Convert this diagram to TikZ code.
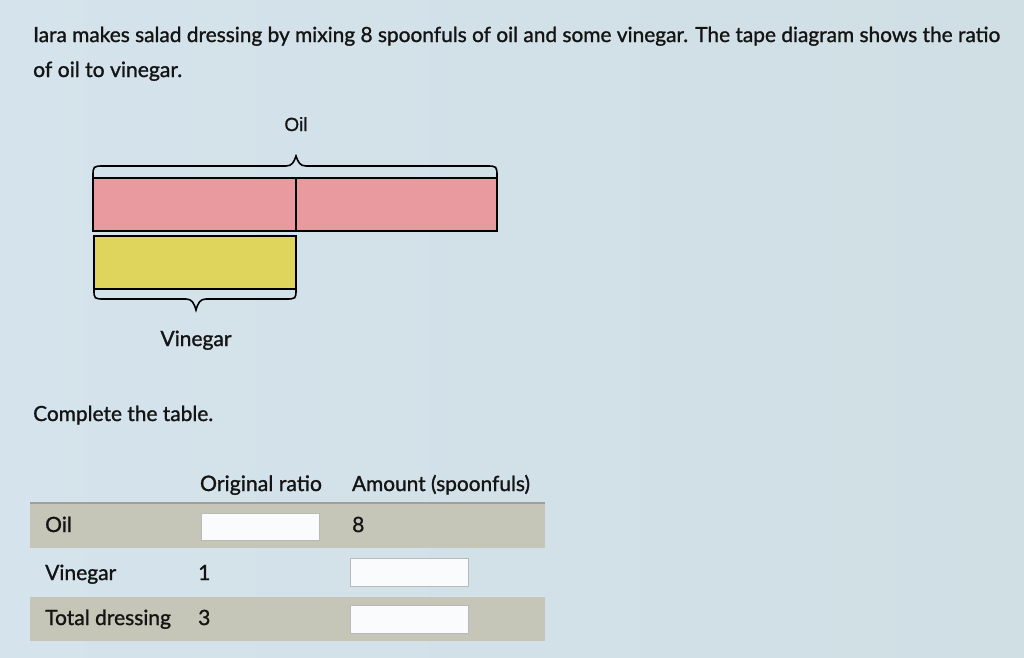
\documentclass[tikz,border=0pt]{standalone}
\usepackage{fontspec}
\setmainfont{Lato}[FakeBold=1.2]
\newfontfamily\helv{Liberation Sans}[FakeBold=0.8]
\definecolor{bgl}{HTML}{D5E3EC}
\definecolor{bgr}{HTML}{CFDFE4}
\definecolor{pinkfill}{HTML}{E99A9F}
\definecolor{yelfill}{HTML}{DFD45C}
\definecolor{band}{HTML}{C6C6B8}
\definecolor{txt}{HTML}{141414}
\tikzset{
  tape/.style={draw=black, line width=2pt},
  bracepath/.style={draw=black, line width=1.6pt},
  body/.style={font=\fontsize{21}{24}\selectfont, text=txt, inner sep=0pt},
  cell/.style={body, anchor=base west},
  inbox/.style={draw=gray!55, fill=white!85!bgl, line width=0.8pt}
}
\begin{document}
\begin{tikzpicture}[x=1pt,y=-1pt]
\useasboundingbox (0,0) rectangle (1024,657);
\shade[left color=bgl, right color=bgr] (0,0) rectangle (1024,657);
% question text
\node[cell] (q1) at (33,42) {\resizebox{967pt}{!}{\fontsize{22}{24}\selectfont Iara makes salad dressing by mixing 8 spoonfuls of oil and some vinegar. The tape diagram shows the ratio}};
\node[cell] (q2) at (33,77) {\resizebox{149pt}{!}{\fontsize{22}{24}\selectfont of oil to vinegar.}};
% tape diagram
\node[body, anchor=base, font=\helv\fontsize{19}{22}\selectfont] (oil) at (296,131) {Oil};
\draw[tape, fill=pinkfill] (93,178) rectangle (296,231);
\draw[tape, fill=pinkfill] (296,178) rectangle (497,231);
\draw[tape, fill=yelfill] (94,236) rectangle (296,289);
% top brace
\coordinate (tl) at (93,177);
\coordinate (tr) at (497,177);
\coordinate (ttip) at (296,156);
\draw[bracepath] (tl) .. controls (93,166) .. (104,166) -- (286,166)
  .. controls (292,166) and (294,162) .. (ttip)
  .. controls (298,162) and (300,166) .. (306,166) -- (486,166)
  .. controls (497,166) .. (tr);
% bottom brace
\coordinate (bl) at (94,289);
\coordinate (br) at (296,289);
\coordinate (btip) at (196,310);
\draw[bracepath] (bl) .. controls (94,299) .. (105,299) -- (186,299)
  .. controls (192,299) and (194,303) .. (btip)
  .. controls (198,303) and (200,299) .. (206,299) -- (285,299)
  .. controls (296,299) .. (br);
\node[body, anchor=base] (vin) at (196,346) {Vinegar};
% table
\node[cell] (complete) at (33,421) {\resizebox{180pt}{!}{Complete the table.}};
\node[body, anchor=base] (h1) at (261,491) {\resizebox{122pt}{!}{Original ratio}};
\node[body, anchor=base] (h2) at (441,491) {\resizebox{178pt}{!}{Amount (spoonfuls)}};
\fill[band] (30,503) rectangle (545,548);
\draw[gray!75, line width=1.5pt] (30,503) -- (545,503);
\fill[band] (30,597) rectangle (545,641);
\node[cell] (r1) at (45,532) {Oil};
\draw[inbox] (201,513) rectangle (319,540);
\node[cell] (r1b) at (352,532) {8};
\node[cell] (r2) at (45,580) {Vinegar};
\node[cell] (r2a) at (198,580) {1};
\draw[inbox] (350,558) rectangle (468,586);
\node[cell] (r3) at (45,625) {Total dressing};
\node[cell] (r3a) at (198,625) {3};
\draw[inbox] (350,605) rectangle (468,633);
\end{tikzpicture}
\end{document}
